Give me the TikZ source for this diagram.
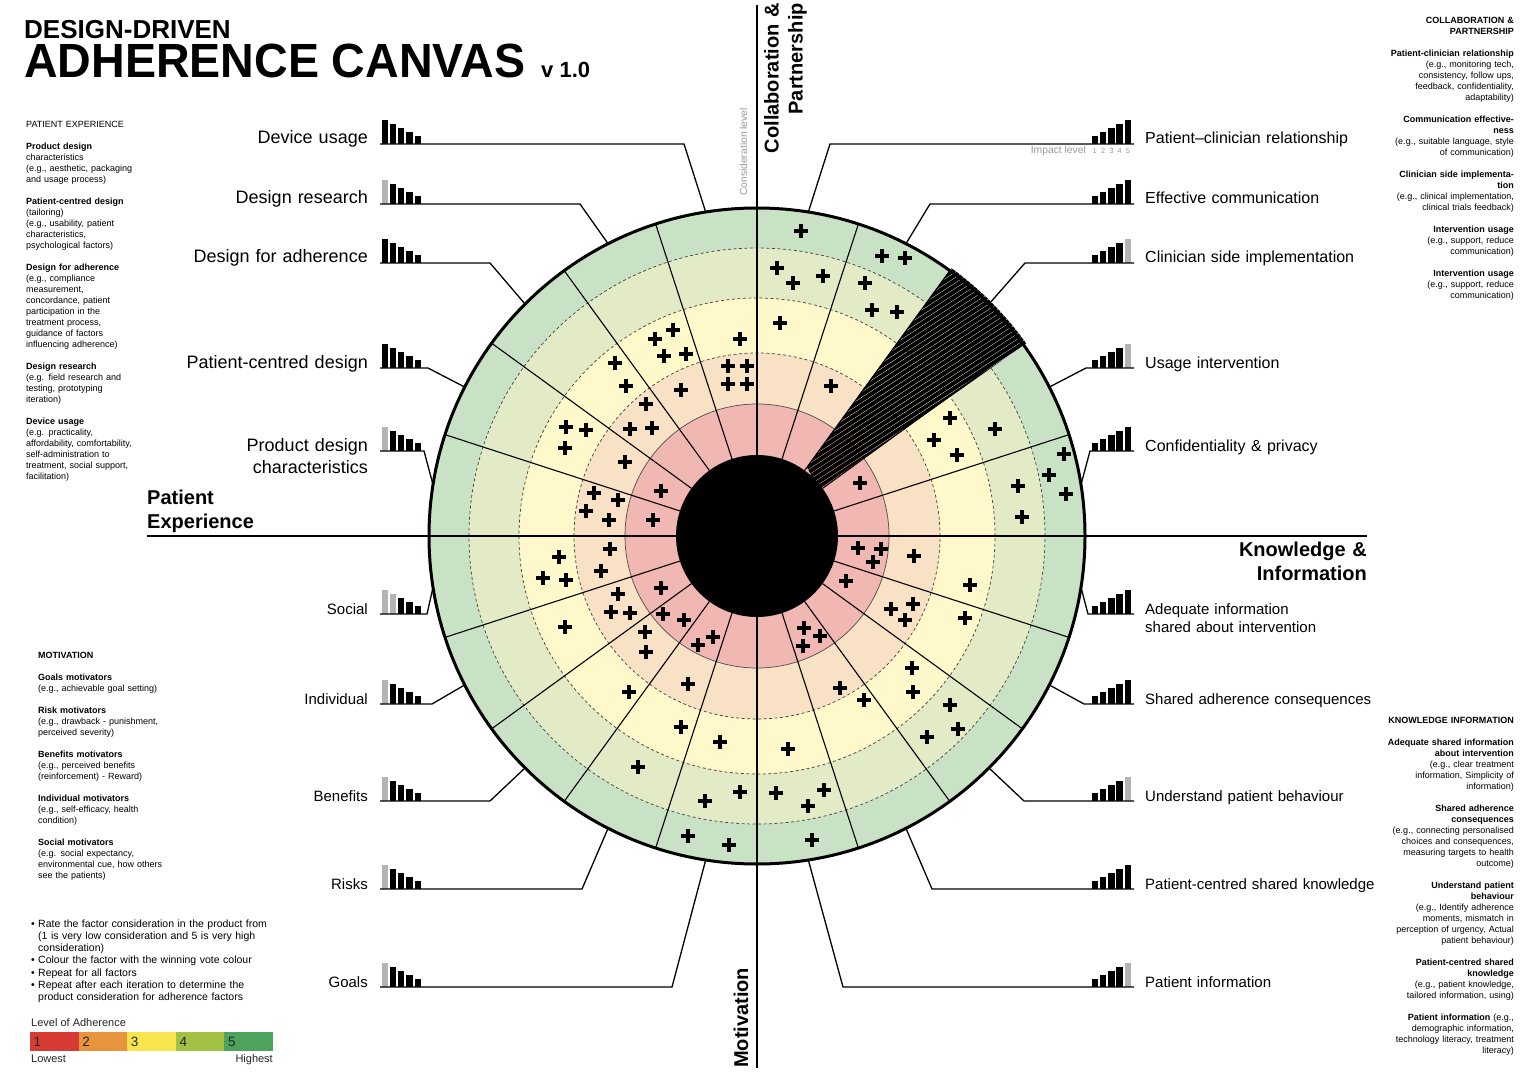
\documentclass[tikz,border=0pt]{standalone}
\usepackage{fontspec}
\setmainfont{Liberation Sans}
\usetikzlibrary{calc}
\definecolor{ringA}{HTML}{F1B7B3}
\definecolor{ringB}{HTML}{F9E1C5}
\definecolor{ringC}{HTML}{FEF8CA}
\definecolor{ringD}{HTML}{E2EBC5}
\definecolor{ringE}{HTML}{C9E2C5}
\definecolor{lvA}{HTML}{D63C34}
\definecolor{lvB}{HTML}{E8943C}
\definecolor{lvC}{HTML}{F7E44E}
\definecolor{lvD}{HTML}{A3C145}
\definecolor{lvE}{HTML}{4DA35B}
\definecolor{bargray}{HTML}{B4B4B4}
\definecolor{hintgray}{HTML}{9A9A9A}
\tikzset{
  titlesmall/.style={anchor=base west, inner sep=0pt, font=\fontsize{26}{30}\selectfont\bfseries},
  titlebig/.style={anchor=base west, inner sep=0pt, font=\fontsize{48}{52}\selectfont\bfseries},
  titleversion/.style={anchor=base west, inner sep=0pt, font=\fontsize{22}{24}\selectfont\bfseries},
  notes/.style={inner sep=0pt, text width=160pt, font=\fontsize{9}{11}\selectfont},
  steps/.style={inner sep=0pt, text width=250pt, font=\fontsize{10.5}{12.3}\selectfont},
  quadhead/.style={inner sep=0pt, text width=170pt, font=\fontsize{20}{24}\selectfont\bfseries},
  factorL/.style={anchor=base east, inner sep=0pt, text width=220pt, align=right},
  factorR/.style={anchor=base west, inner sep=0pt, text width=240pt, align=left},
  fUL/.style={font=\fontsize{18}{22}\selectfont},
  fLL/.style={font=\fontsize{15}{18}\selectfont},
  fUR/.style={font=\fontsize{16}{19}\selectfont},
  fLR/.style={font=\fontsize{15}{18}\selectfont},
  hint/.style={inner sep=0pt, text=hintgray, font=\fontsize{10.3}{12}\selectfont},
  leader/.style={line width=1.3pt},
  spoke/.style={line width=1.1pt},
  ringline/.style={dash pattern=on 3pt off 2.5pt, line width=0.7pt, black!75},
  axis/.style={line width=2.6pt},
  lvnum/.style={anchor=base west, inner sep=0pt, text=black!85, font=\fontsize{13.5}{14}\selectfont},
  legendtext/.style={inner sep=0pt, text=black!85, font=\fontsize{11}{12}\selectfont},
  plusmark/.pic={\draw[line width=3.8pt] (-7,0) -- (7,0) (0,-7) -- (0,7);},
}
% wheel radii
\def\rIn{81}
\def\rA{132}
\def\rB{183}
\def\rC{238}
\def\rD{288}
\def\rE{328}
% level icons: row baseline, number of grey bars
\newcommand{\barsdown}[2]{%
  \foreach \i/\h in {0/24,1/20,2/16,3/12,4/8}{%
    \ifnum\i<#2\relax\def\barc{bargray}\else\def\barc{black}\fi
    \fill[\barc] ({381.5+8.3*\i},#1) rectangle ++(6.3,-\h);}}
\newcommand{\barsup}[2]{%
  \foreach \i/\h in {0/8,1/12,2/16,3/20,4/24}{%
    \ifnum\i>\numexpr4-#2\relax\def\barc{bargray}\else\def\barc{black}\fi
    \fill[\barc] ({1091.5+8.3*\i},#1) rectangle ++(6.5,-\h);}}
% rim index, row y, knee x, font style, label, grey bars
\newcommand{\factorleft}[6]{%
  \node[factorL, #4] (lab#1) at (368,#2) {#5};
  \barsdown{#2}{#6}
  \coordinate (knee#1) at (#3,#2);
  \coordinate (foot#1) at (380,#2);
  \draw[leader] (rim#1) -- (knee#1) -- (foot#1);}
\newcommand{\factorright}[6]{%
  \node[factorR, #4] (lab#1) at (1145,#2) {#5};
  \barsup{#2}{#6}
  \coordinate (knee#1) at (#3,#2);
  \coordinate (foot#1) at (1134,#2);
  \draw[leader] (rim#1) -- (knee#1) -- (foot#1);}

\begin{document}
\begin{tikzpicture}[x=1pt,y=-1pt]
  \fill[white] (0,0) rectangle (1536,1075);
  \useasboundingbox (0,0) rectangle (1536,1075);
  % title
  \node[titlesmall] (kicker) at (24,38.5) {DESIGN-DRIVEN};
  \node[titlebig] (title) at (24,77.5) {\scalebox{0.97}[1]{ADHERENCE CANVAS}};
  \node[titleversion] (version) at (541,77.5) {v 1.0};

  % the wheel
  \begin{scope}[shift={(757,536)}, yscale=-1]
    \fill[ringE] (0,0) circle[radius=\rE];
    \fill[ringD] (0,0) circle[radius=\rD];
    \fill[ringC] (0,0) circle[radius=\rC];
    \fill[ringB] (0,0) circle[radius=\rB];
    \fill[ringA] (0,0) circle[radius=\rA];
    \foreach \r in {\rD,\rC,\rB} \draw[ringline] (0,0) circle[radius=\r];
    \draw[line width=0.7pt, black!70] (0,0) circle[radius=\rA];
    \foreach \a in {0,18,...,342} \draw[spoke] (\a:\rIn) -- (\a:\rE);
    \begin{scope}
      \clip (50,69) -- (54:331) arc[start angle=54, end angle=35.6, radius=331] -- (61,46) -- cycle;
      \foreach \t in {3,7.5,...,124}
        \draw[line width=3.9pt] ([shift={(33:60)}]123:\t) -- ([shift={(33:345)}]123:\t);
    \end{scope}
    \draw[line width=3pt] (0,0) circle[radius=\rE];
    \fill (0,0) circle[radius=\rIn];
    \foreach \k in {0,...,19} \coordinate (rim\k) at (\k*18+9:\rE);
  \end{scope}

  % votes
  \foreach \px/\py in {801/231,882/256,905/258,777/268,793/283,823/276,865/283,872/310,897/312,780/323,
      831/386,950/418,934/440,957/455,995/429,860/483,1018/486,1064/454,1049/475,1066/494,1022/517,
      740/339,673/330,655/339,686/354,664/356,615/363,728/366,747/366,728/384,747/384,626/386,681/390,
      646/404,630/429,652/428,566/427,586/430,565/448,625/462,594/493,618/500,586/511,609/520,661/491,653/520,
      559/557,543/578,566/580,601/571,610/549,618/594,611/612,630/613,661/588,663/614,684/620,698/645,
      713/637,645/632,646/652,565/627,629/692,688/684,681/727,720/742,638/767,705/801,740/792,688/836,729/845,
      858/548,881/549,873/562,914/556,846/581,970/585,891/609,913/604,905/620,965/618,804/628,820/636,
      803/646,912/668,913/692,840/688,864/700,950/705,958/729,927/737,788/749,776/793,824/790,808/806,812/840}
    \pic at (\px,\py) {plusmark};

  % axes
  \draw[axis] (757,5) -- (757,1068);
  \draw[axis] (147,536) -- (1367,536);

  % factors
  \factorleft{5}{144}{684}{fUL}{Device usage}{0}
  \factorleft{6}{204}{580}{fUL}{Design research}{1}
  \factorleft{7}{263}{490}{fUL}{Design for adherence}{0}
  \factorleft{8}{368}{428}{fUL}{Patient-centred design}{0}
  \factorleft{9}{451}{424}{fUL}{Product design\\characteristics}{1}
  \factorleft{10}{614}{427}{fLL}{Social}{2}
  \factorleft{11}{704}{432}{fLL}{Individual}{1}
  \factorleft{12}{801}{490}{fLL}{Benefits}{1}
  \factorleft{13}{889}{582}{fLL}{Risks}{1}
  \factorleft{14}{987}{672}{fLL}{Goals}{1}
  \factorright{4}{144}{830}{fUR}{Patient--clinician relationship}{0}
  \factorright{3}{204}{930}{fUR}{Effective communication}{0}
  \factorright{2}{263}{1025}{fUR}{Clinician side implementation}{1}
  \factorright{1}{368}{1086}{fUR}{Usage intervention}{1}
  \factorright{0}{451}{1090}{fUR}{Confidentiality \& privacy}{0}
  \factorright{19}{614}{1088}{fLR}{Adequate information\\shared about intervention}{0}
  \factorright{18}{704}{1084}{fLR}{Shared adherence consequences}{0}
  \factorright{17}{801}{1024}{fLR}{Understand patient behaviour}{1}
  \factorright{16}{889}{932}{fLR}{Patient-centred shared knowledge}{0}
  \factorright{15}{987}{843}{fLR}{Patient information}{1}

  % scale hints
  \node[hint, anchor=base east] (impact) at (1086,153.5) {Impact level};
  \foreach \i in {1,...,5}
    \node[hint, anchor=base, font=\fontsize{7.5}{9}\selectfont] (imp\i) at ({1094.8+8.3*(\i-1)},153.5) {\i};
  \node[hint, rotate=90, anchor=base west] (consider) at (747,196) {Consideration level};

  % quadrant headings
  \node[quadhead, anchor=base west] (pe) at (147,504) {Patient\\Experience};
  \node[quadhead, anchor=base east, align=right] (ki) at (1367,556) {Knowledge \&\\Information};
  \node[quadhead, rotate=90, anchor=north east, align=right] (cp) at (764,3) {Collaboration \&\\Partnership};
  \node[quadhead, rotate=90, anchor=base west, text width=] (mo) at (748,1068) {Motivation};

  % side notes
  \node[notes, anchor=base west] (penotes) at (26,127.5) {\raggedright PATIENT EXPERIENCE\\[11pt]
    \textbf{Product design}\\characteristics\\(e.g., aesthetic, packaging\\and usage process)\\[11pt]
    \textbf{Patient-centred design}\\(tailoring)\\(e.g., usability, patient\\characteristics,\\psychological factors)\\[11pt]
    \textbf{Design for adherence}\\(e.g., compliance\\measurement,\\concordance, patient\\participation in the\\treatment process,\\guidance of factors\\influencing adherence)\\[11pt]
    \textbf{Design research}\\(e.g. field research and\\testing, prototyping\\iteration)\\[11pt]
    \textbf{Device usage}\\(e.g. practicality,\\affordability, comfortability,\\self-administration to\\treatment, social support,\\facilitation)\par};
  \node[notes, anchor=base west] (monotes) at (38,658.5) {\raggedright \textbf{MOTIVATION}\\[11pt]
    \textbf{Goals motivators}\\(e.g., achievable goal setting)\\[11pt]
    \textbf{Risk motivators}\\(e.g., drawback - punishment,\\perceived severity)\\[11pt]
    \textbf{Benefits motivators}\\(e.g., perceived benefits\\(reinforcement) - Reward)\\[11pt]
    \textbf{Individual motivators}\\(e.g., self-efficacy, health\\condition)\\[11pt]
    \textbf{Social motivators}\\(e.g. social expectancy,\\environmental cue, how others\\see the patients)\par};
  \node[notes, anchor=base east] (cpnotes) at (1514,23.5) {\raggedleft \textbf{COLLABORATION \&}\\\textbf{PARTNERSHIP}\\[11pt]
    \textbf{Patient-clinician relationship}\\(e.g., monitoring tech,\\consistency, follow ups,\\feedback, confidentiality,\\adaptability)\\[11pt]
    \textbf{Communication effective-}\\\textbf{ness}\\(e.g., suitable language, style\\of communication)\\[11pt]
    \textbf{Clinician side implementa-}\\\textbf{tion}\\(e.g., clinical implementation,\\clinical trials feedback)\\[11pt]
    \textbf{Intervention usage}\\(e.g., support, reduce\\communication)\\[11pt]
    \textbf{Intervention usage}\\(e.g., support, reduce\\communication)\par};
  \node[notes, anchor=base east] (kinotes) at (1514,723.5) {\raggedleft \textbf{KNOWLEDGE INFORMATION}\\[11pt]
    \textbf{Adequate shared information}\\\textbf{about intervention}\\(e.g., clear treatment\\information, Simplicity of\\information)\\[11pt]
    \textbf{Shared adherence}\\\textbf{consequences}\\(e.g., connecting personalised\\choices and consequences,\\measuring targets to health\\outcome)\\[11pt]
    \textbf{Understand patient}\\\textbf{behaviour}\\(e.g., Identify adherence\\moments, mismatch in\\perception of urgency, Actual\\patient behaviour)\\[11pt]
    \textbf{Patient-centred shared}\\\textbf{knowledge}\\(e.g., patient knowledge,\\tailored information, using)\\[11pt]
    \textbf{Patient information} (e.g.,\\demographic information,\\technology literacy, treatment\\literacy)\par};

  % how to use
  \node[steps, anchor=base west] (howto) at (31,927) {\raggedright
    \makebox[7pt][l]{\textbullet}Rate the factor consideration in the product from\\
    \hspace*{7pt}(1 is very low consideration and 5 is very high\\
    \hspace*{7pt}consideration)\\
    \makebox[7pt][l]{\textbullet}Colour the factor with the winning vote colour\\
    \makebox[7pt][l]{\textbullet}Repeat for all factors\\
    \makebox[7pt][l]{\textbullet}Repeat after each iteration to determine the\\
    \hspace*{7pt}product consideration for adherence factors\par};

  % level of adherence
  \node[legendtext, anchor=base west] (lvltitle) at (31,1026.5) {Level of Adherence};
  \foreach \i/\c in {1/lvA,2/lvB,3/lvC,4/lvD,5/lvE}{
    \fill[\c] ({30+48.6*(\i-1)},1032) rectangle ++(48.6,19);
    \node[lvnum] (lvl\i) at ({33.5+48.6*(\i-1)},1046.5) {\i};}
  \node[legendtext, anchor=base west] (lowest) at (31,1062) {Lowest};
  \node[legendtext, anchor=base east] (highest) at (273,1062) {Highest};
\end{tikzpicture}
\end{document}
